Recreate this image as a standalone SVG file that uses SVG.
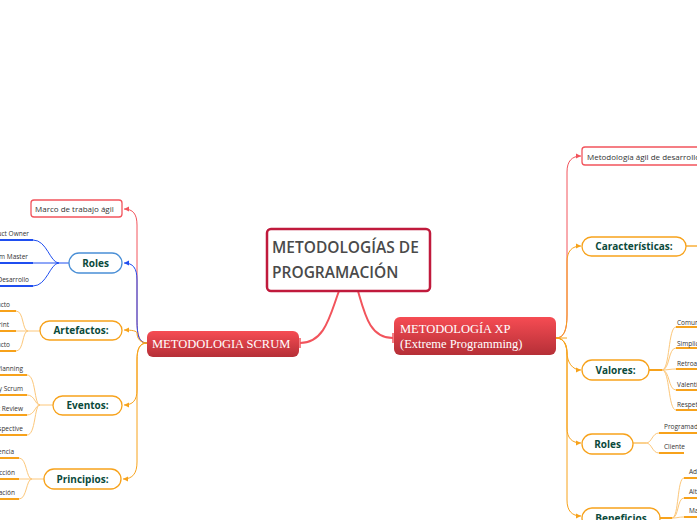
<svg xmlns="http://www.w3.org/2000/svg" width="697" height="520" viewBox="0 0 697 520">
<defs>
<linearGradient id="redg" x1="0" y1="0" x2="0" y2="1">
<stop offset="0" stop-color="#f64c53"/>
<stop offset="1" stop-color="#b52f37"/>
</linearGradient>
<marker id="mr" markerWidth="6" markerHeight="6" refX="5" refY="3" orient="auto" markerUnits="userSpaceOnUse"><path d="M0,0.5 L5,3 L0,5.5 z" fill="#f2545c"/></marker>
<marker id="mb" markerWidth="6" markerHeight="6" refX="5" refY="3" orient="auto" markerUnits="userSpaceOnUse"><path d="M0,0.5 L5,3 L0,5.5 z" fill="#1f4ef0"/></marker>
<marker id="mo" markerWidth="6" markerHeight="6" refX="5" refY="3" orient="auto" markerUnits="userSpaceOnUse"><path d="M0,0.5 L5,3 L0,5.5 z" fill="#f7a21b"/></marker>
<marker id="mt" markerWidth="4" markerHeight="10" refX="2" refY="5" orient="auto" markerUnits="userSpaceOnUse"><path d="M2,0 L2,10" stroke="#f2545c" stroke-width="1.5"/></marker>
</defs>
<style>
.cr{fill:none;stroke:#f2545c;stroke-width:1}
.cm{fill:none;stroke:#f2545c;stroke-width:2}
.cb{fill:none;stroke:#1f4ef0;stroke-width:1}
.co{fill:none;stroke:#f7a21b;stroke-width:1}
.lb{fill:none;stroke:#1f4ef0;stroke-width:2}
.lbt{fill:none;stroke:#1f4ef0;stroke-width:1}
.lo{fill:none;stroke:#f7a21b;stroke-width:2}
.lot{fill:none;stroke:#fcc77a;stroke-width:1}
.leaf{font-family:"Open Sans","DejaVu Sans",sans-serif;font-size:6.5px;fill:#333}
.nl{font-family:"Open Sans","DejaVu Sans",sans-serif;font-size:10px;font-weight:700;fill:#0b4a3b;text-anchor:middle}
.rb{font-family:"Liberation Serif","DejaVu Serif",serif;font-size:12.5px;fill:#fff}
.bo{fill:#fff;stroke:#f7a21b;stroke-width:1.3}
.bx{font-family:"Open Sans","DejaVu Sans",sans-serif;font-size:8px;fill:#333}
</style>

<g id="connectors">
<path class="cm" d="M339,291 C330,315 325,343 300,343" marker-end="url(#mt)"/>
<path class="cm" d="M358,291 C365,315 370,338 393,338" marker-end="url(#mt)"/>
<path class="cr" d="M147,343 C139,343 137,335 137,320 L137,225 C137,214 133,209 124,209" marker-end="url(#mr)"/>
<path class="cb" d="M147,343 C139,343 137,336 137,320 L137,280 C137,268 133,263 124,263" marker-end="url(#mb)"/>
<path class="co" d="M147,343 C140,343 137,338 137,333 C137,331 132,330 124,330" marker-end="url(#mo)"/>
<path class="co" d="M147,343 C139,343 137,350 137,360 L137,390 C137,400 133,405 124,405" marker-end="url(#mo)"/>
<path class="co" d="M147,343 C139,343 137,350 137,360 L137,462 C137,473 133,479 123,479" marker-end="url(#mo)"/>
<path class="lb" d="M-5,240 L33,240"/>
<path class="lbt" d="M33,240 C47,240 50,263 59,263"/>
<path class="lb" d="M-5,263 L33,263"/>
<path class="lbt" d="M33,263 L69,263"/>
<path class="lb" d="M-5,286 L33,286"/>
<path class="lbt" d="M33,286 C47,286 50,263 59,263"/>
<path class="lo" d="M-5,311 L16,311"/>
<path class="lot" d="M16,311 C24,311 22,331 28,331"/>
<path class="lo" d="M-5,331 L16,331"/>
<path class="lot" d="M16,331 L40,331"/>
<path class="lo" d="M-5,351 L16,351"/>
<path class="lot" d="M16,351 C24,351 22,331 28,331"/>
<path class="lo" d="M-5,375 L27,375"/>
<path class="lot" d="M27,375 C36,375 34,405 40,405"/>
<path class="lo" d="M-5,395 L27,395"/>
<path class="lot" d="M27,395 C35,395 35,405 40,405"/>
<path class="lo" d="M-5,415 L27,415"/>
<path class="lot" d="M27,415 C35,415 35,405 40,405"/>
<path class="lo" d="M-5,435 L27,435"/>
<path class="lot" d="M27,435 C36,435 34,405 40,405"/>
<path class="lot" d="M40,405 L53,405"/>
<path class="lo" d="M-5,458 L19,458"/>
<path class="lot" d="M19,458 C27,458 26,479 32,479"/>
<path class="lo" d="M-5,479 L19,479"/>
<path class="lot" d="M19,479 L44,479"/>
<path class="lo" d="M-5,499 L19,499"/>
<path class="lot" d="M19,499 C27,499 26,479 32,479"/>
<path class="cr" d="M556,338 C564,338 567,330 567,315 L567,172 C567,161 572,156 581,156" marker-end="url(#mr)"/>
<path class="co" d="M556,338 C564,338 567,330 567,315 L567,262 C567,251 572,246 581,246" marker-end="url(#mo)"/>
<path class="co" d="M556,338 C564,338 567,345 567,352 C567,362 572,370 581,370" marker-end="url(#mo)"/>
<path class="co" d="M556,338 C564,338 567,345 567,355 L567,428 C567,438 572,443 581,443" marker-end="url(#mo)"/>
<path class="co" d="M556,338 C564,338 567,345 567,355 L567,500 C567,511 572,516 581,516" marker-end="url(#mo)"/>
<path class="co" d="M556,338 L567,338"/>
<path class="lo" d="M686,246 L700,246" style="stroke-width:1.3"/>
<path class="lo" d="M649,370 L662,370"/>
<path class="lot" d="M662,370 C670,370 668,327 676,327"/>
<path class="lot" d="M662,370 C670,370 668,348 676,348"/>
<path class="lot" d="M662,370 C668,370 670,369 676,369"/>
<path class="lot" d="M662,370 C670,370 668,390 676,390"/>
<path class="lot" d="M662,370 C670,370 668,410 676,410"/>
<path class="lo" d="M676,327 L700,327"/>
<path class="lo" d="M676,348 L700,348"/>
<path class="lo" d="M676,369 L700,369"/>
<path class="lo" d="M676,390 L700,390"/>
<path class="lo" d="M676,410 L700,410"/>
<path class="lo" d="M633,443 L646,443" style="stroke-width:1"/>
<path class="lot" d="M646,443 C652,443 652,433 659,433"/>
<path class="lot" d="M646,443 C652,443 652,453 659,453"/>
<path class="lo" d="M659,433 L700,433"/>
<path class="lo" d="M659,453 L684,453"/>
<path class="lo" d="M660,518 L672,518"/>
<path class="lot" d="M672,518 C679,518 677,478 684,478"/>
<path class="lot" d="M672,518 C679,518 677,498 684,498"/>
<path class="lot" d="M672,518 C678,518 678,517 684,517"/>
<path class="lo" d="M684,478 L700,478"/>
<path class="lo" d="M684,498 L700,498"/>
<path class="lo" d="M684,517 L700,517"/>
</g>

<g id="central">
<rect x="267" y="229" width="163" height="62" rx="4" fill="#fff" stroke="#c01a3c" stroke-width="2.5"/>
<text x="272" y="253" font-family="'Open Sans','DejaVu Sans',sans-serif" font-size="15.5" font-weight="600" fill="#4a4a4a">METODOLOGÍAS DE</text>
<text x="272" y="278" font-family="'Open Sans','DejaVu Sans',sans-serif" font-size="15.5" font-weight="600" fill="#4a4a4a">PROGRAMACIÓN</text>
</g>

<g id="scrum">
<rect x="147" y="331" width="152" height="26" rx="6" fill="url(#redg)"/>
<text class="rb" x="152" y="348">METODOLOGIA SCRUM</text>
</g>

<g id="xp">
<rect x="394" y="317" width="162" height="38" rx="6" fill="url(#redg)"/>
<text class="rb" x="400" y="333">METODOLOGÍA XP</text>
<text class="rb" x="400" y="348">(Extreme Programming)</text>
</g>

<g id="marco">
<rect x="31" y="200" width="91" height="17" rx="3" fill="#fff" stroke="#f2545c" stroke-width="1.3"/>
<text class="bx" x="35" y="212">Marco de trabajo ágil</text>
</g>

<g id="roles-scrum">
<rect x="69" y="253" width="53" height="20" rx="10" fill="#fff" stroke="#4a8fd6" stroke-width="1.3"/>
<text class="nl" x="95.5" y="267">Roles</text>
<text class="leaf" x="29" y="236" text-anchor="end">Product Owner</text>
<text class="leaf" x="28" y="259" text-anchor="end">Scrum Master</text>
<text class="leaf" x="29" y="282" text-anchor="end">Equipo de Desarrollo</text>
</g>

<g id="artefactos">
<rect x="40" y="321" width="82" height="19" rx="9.5" class="bo"/>
<text class="nl" x="81" y="334">Artefactos:</text>
<text class="leaf" x="10" y="307" text-anchor="end">Backlog del Producto</text>
<text class="leaf" x="9" y="327" text-anchor="end">Backlog del Sprint</text>
<text class="leaf" x="10" y="347" text-anchor="end">Incremento del Producto</text>
</g>

<g id="eventos">
<rect x="53" y="396" width="69" height="19" rx="9.5" class="bo"/>
<text class="nl" x="87.5" y="409">Eventos:</text>
<text class="leaf" x="23" y="371" text-anchor="end">Sprint Planning</text>
<text class="leaf" x="23" y="391" text-anchor="end">Daily Scrum</text>
<text class="leaf" x="23" y="411" text-anchor="end">Sprint Review</text>
<text class="leaf" x="23" y="431" text-anchor="end">Sprint Retrospective</text>
</g>

<g id="principios">
<rect x="44" y="469" width="77" height="20" rx="10" class="bo"/>
<text class="nl" x="82.5" y="483">Principios:</text>
<text class="leaf" x="14" y="454" text-anchor="end">Transparencia</text>
<text class="leaf" x="15" y="475" text-anchor="end">Inspección</text>
<text class="leaf" x="15" y="495" text-anchor="end">Adaptación</text>
</g>

<g id="metodologia-agil">
<rect x="582" y="147" width="130" height="18" rx="3" fill="#fff" stroke="#f2545c" stroke-width="1.3"/>
<text class="bx" x="587" y="159.5">Metodología ágil de desarrollo</text>
</g>

<g id="caracteristicas">
<rect x="582" y="237" width="104" height="19" rx="9.5" class="bo"/>
<text class="nl" x="634" y="250">Características:</text>
</g>

<g id="valores">
<rect x="582" y="360" width="67" height="20" rx="10" class="bo"/>
<text class="nl" x="615.5" y="374">Valores:</text>
<text class="leaf" x="677" y="325">Comunicación</text>
<text class="leaf" x="677" y="346">Simplicidad</text>
<text class="leaf" x="677" y="366">Retroalimentación</text>
<text class="leaf" x="677" y="387">Valentía</text>
<text class="leaf" x="677" y="407">Respeto</text>
</g>

<g id="roles-xp">
<rect x="582" y="434" width="51" height="20" rx="10" class="bo"/>
<text class="nl" x="607.5" y="448">Roles</text>
<text class="leaf" x="664" y="429">Programador</text>
<text class="leaf" x="664" y="449">Cliente</text>
</g>

<g id="beneficios">
<rect x="582" y="508" width="78" height="20" rx="10" class="bo"/>
<text class="nl" x="621" y="522">Beneficios</text>
<text class="leaf" x="689" y="474">Adaptabilidad</text>
<text class="leaf" x="689" y="494">Alta calidad</text>
<text class="leaf" x="689" y="513">Mayor productividad</text>
</g>
</svg>
